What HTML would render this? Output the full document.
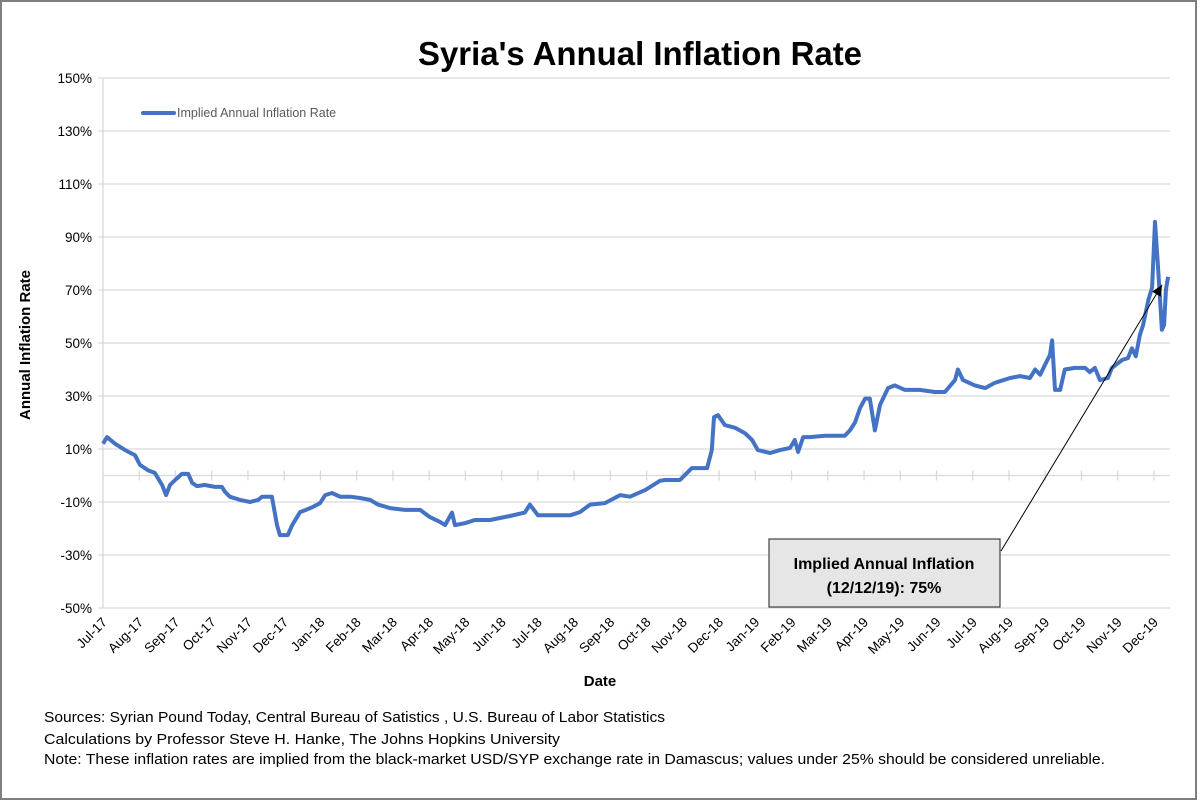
<!DOCTYPE html>
<html><head><meta charset="utf-8"><style>
body{margin:0;background:#fff}
#wrap{position:relative;width:1200px;height:800px;overflow:hidden;font-family:"Liberation Sans",sans-serif}
</style></head><body>
<div id="wrap">
<svg id="chart" width="1200" height="800">
<rect x="1" y="1" width="1195" height="798" fill="#fff" stroke="#7f7f7f" stroke-width="2"/>
<text x="640" y="65" text-anchor="middle" font-size="33" font-weight="bold" fill="#000" textLength="444" lengthAdjust="spacingAndGlyphs">Syria's Annual Inflation Rate</text>
<g id="grid"></g><g id="axes"></g>
<g>
<line x1="143" y1="113" x2="174" y2="113" stroke="#4472C4" stroke-width="4" stroke-linecap="round"/>
<text x="177" y="117" font-size="12.5" fill="#595959">Implied Annual Inflation Rate</text>
</g>
<path id="series" fill="none" stroke="#4472C4" stroke-width="4" stroke-linejoin="round"/>
<text transform="translate(30,345) rotate(-90)" text-anchor="middle" font-size="15" font-weight="bold">Annual Inflation Rate</text>
<text x="600" y="686" text-anchor="middle" font-size="15" font-weight="bold">Date</text>
<g id="annot">
<rect x="769" y="539" width="231" height="68" fill="#e7e6e6" stroke="#404040" stroke-width="1.2"/>
<text x="884" y="569" text-anchor="middle" font-size="16" font-weight="bold">Implied Annual Inflation</text>
<text x="884" y="593" text-anchor="middle" font-size="16" font-weight="bold">(12/12/19): 75%</text>
</g>
<line id="arrow" stroke="#000" stroke-width="1"/>
<polygon id="arrowhead" fill="#000"/>
<g font-size="15" fill="#000">
<text x="44" y="722" textLength="621" lengthAdjust="spacingAndGlyphs">Sources: Syrian Pound Today, Central Bureau of Satistics , U.S. Bureau of Labor Statistics</text>
<text x="44" y="744" textLength="516" lengthAdjust="spacingAndGlyphs">Calculations by Professor Steve H. Hanke, The Johns Hopkins University</text>
<text x="44" y="764" textLength="1061" lengthAdjust="spacingAndGlyphs">Note: These inflation rates are implied from the black-market USD/SYP exchange rate in Damascus; values under 25% should be considered unreliable.</text>
</g>
</svg>
</div>
<script>
const monthLabels=["Jul-17","Aug-17","Sep-17","Oct-17","Nov-17","Dec-17","Jan-18","Feb-18","Mar-18","Apr-18","May-18","Jun-18","Jul-18","Aug-18","Sep-18","Oct-18","Nov-18","Dec-18","Jan-19","Feb-19","Mar-19","Apr-19","May-19","Jun-19","Jul-19","Aug-19","Sep-19","Oct-19","Nov-19","Dec-19"];
const yTicks=[150,130,110,90,70,50,30,10,-10,-30,-50];
const monthsSinceJul17=[0,0.11,0.33,0.61,0.88,1.02,1.24,1.43,1.63,1.74,1.85,1.99,2.18,2.35,2.46,2.59,2.81,3.09,3.28,3.37,3.5,3.78,4.06,4.28,4.39,4.66,4.8,4.88,5.1,5.22,5.44,5.6,5.77,5.99,6.13,6.32,6.54,6.82,7.09,7.37,7.59,7.92,8.33,8.75,9.02,9.3,9.44,9.63,9.71,9.99,10.26,10.68,11.23,11.64,11.78,12.0,12.33,12.89,13.16,13.44,13.85,14.27,14.54,14.96,15.37,15.51,15.92,16.25,16.67,16.8,16.86,16.97,17.16,17.44,17.71,17.91,18.07,18.41,18.68,18.96,19.09,19.18,19.32,19.51,19.92,20.47,20.61,20.75,20.89,21.03,21.16,21.3,21.44,21.66,21.85,22.13,22.54,22.96,23.23,23.51,23.59,23.73,24.06,24.34,24.61,25.03,25.3,25.58,25.72,25.86,25.99,26.13,26.19,26.27,26.41,26.54,26.82,27.1,27.23,27.37,27.51,27.73,27.84,28.12,28.28,28.39,28.5,28.61,28.7,28.84,28.95,29.03,29.11,29.17,29.22,29.28,29.33,29.39];
const inflationPct=[12,14.5,12,9.6,7.7,4,2,1,-3.6,-7.4,-3.6,-1.7,0.6,0.6,-2.8,-4,-3.6,-4.3,-4.3,-6.2,-8,-9.2,-10,-9.2,-8,-8,-18.7,-22.5,-22.5,-18.7,-13.8,-13,-12,-10.4,-7.4,-6.6,-8,-8,-8.5,-9.2,-11,-12.3,-13,-13,-15.7,-17.5,-18.7,-14,-18.7,-18,-16.8,-16.8,-15.3,-14,-11,-15,-15,-15,-13.8,-11,-10.4,-7.4,-8,-5.5,-2,-1.7,-1.7,2.8,2.8,9.6,22,22.8,19,18,16,13.4,9.6,8.5,9.6,10.4,13.4,8.9,14.5,14.5,15,15,17,20,25.5,29,29,17,26.6,33,34,32.3,32.3,31.5,31.5,36,40,36,34,33,35,36.8,37.5,36.8,40,38,41.7,45.5,51,32.3,32.3,40,40.6,40.6,39,40.6,36,36.8,40.6,43.6,44.3,48,45,53,56.8,66,71,95.7,79.4,66,55,56.8,70,75];
const X0=103,MW=36.24,Y0=475.5,PY=2.65;
const xs=m=>X0+m*MW, ys=v=>Y0-v*PY;
const NS="http://www.w3.org/2000/svg";
const grid=document.getElementById('grid'),axes=document.getElementById('axes');
function mk(tag,attrs,parent){const e=document.createElementNS(NS,tag);for(const k in attrs)e.setAttribute(k,attrs[k]);parent.appendChild(e);return e;}
yTicks.forEach(v=>{
  const l=mk('line',{x1:98,x2:1170,y1:ys(v),y2:ys(v),stroke:'#d9d9d9','stroke-width':1.3},grid);
  
  
  const t=mk('text',{x:92,y:ys(v)+5,'text-anchor':'end','font-size':13.5,fill:'#000'},axes);
  t.textContent=v+'%';
  
  
});
const zl=mk('line',{x1:103,x2:1170,y1:ys(0),y2:ys(0),stroke:'#d9d9d9','stroke-width':1.3},axes);


const yl=mk('line',{x1:103,x2:103,y1:ys(150),y2:ys(-50),stroke:'#d9d9d9','stroke-width':1.3},axes);


monthLabels.forEach((lab,i)=>{
  const x=xs(i);
  const tk=mk('line',{x1:x,x2:x,y1:ys(0)-5,y2:ys(0)+5,stroke:'#d9d9d9','stroke-width':1.3},axes);
  
  
  const t=mk('text',{transform:`translate(${x+5},${ys(-50)+15}) rotate(-45)`,'text-anchor':'end','font-size':13.5,fill:'#000'},axes);
  t.textContent=lab;
  
  
});
let d='';
monthsSinceJul17.forEach((m,i)=>{d+=(i?'L':'M')+xs(m).toFixed(1)+','+ys(inflationPct[i]).toFixed(1);});
document.getElementById('series').setAttribute('d',d);
const lastM=monthsSinceJul17[monthsSinceJul17.length-1],lastV=inflationPct[inflationPct.length-1];
const ax=xs(lastM)-6,ay=ys(lastV)+8,bx=1001,by=551;
const ar=document.getElementById('arrow');
ar.setAttribute('x1',bx);ar.setAttribute('y1',by);ar.setAttribute('x2',ax);ar.setAttribute('y2',ay);
const ang=Math.atan2(ay-by,ax-bx),L=11,W=5;
const p1=[ax,ay],bxh=ax-L*Math.cos(ang),byh=ay-L*Math.sin(ang);
const p2=[bxh+W*Math.sin(ang),byh-W*Math.cos(ang)],p3=[bxh-W*Math.sin(ang),byh+W*Math.cos(ang)];
document.getElementById('arrowhead').setAttribute('points',[p1,p2,p3].map(p=>p.join(',')).join(' '));
</script>
</body></html>
